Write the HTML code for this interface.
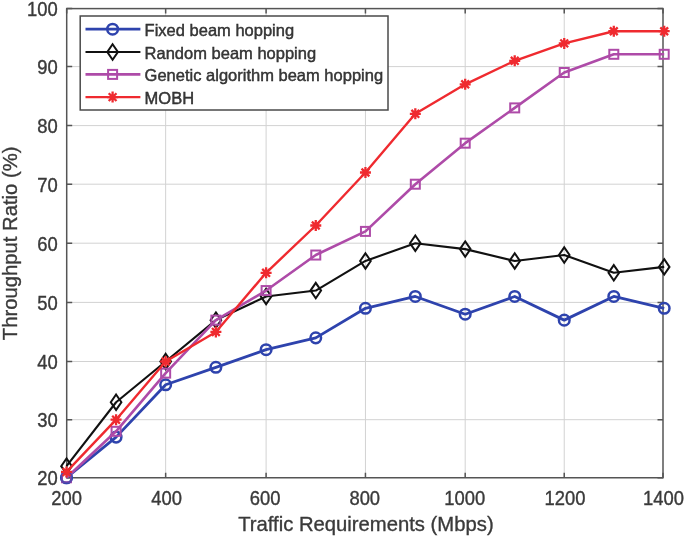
<!DOCTYPE html><html><head><meta charset="utf-8"><title>Throughput Ratio</title>
<style>html,body{margin:0;padding:0;background:#fff}svg{display:block}text{font-family:"Liberation Sans",sans-serif;fill:#3a3a3a}.t{stroke:#3a3a3a;stroke-width:0.35px}.lg{stroke:#222;stroke-width:0.4px}</style></head><body>
<svg width="685" height="537" viewBox="0 0 685 537">
<rect width="685" height="537" fill="#ffffff"/>
<path d="M165.65 8.6V477.75M266.10 8.6V477.75M365.45 8.6V477.75M465.20 8.6V477.75M564.24 8.6V477.75M66.7 419.70H663.0M66.7 361.50H663.0M66.7 302.40H663.0M66.7 243.20H663.0M66.7 184.20H663.0M66.7 125.60H663.0M66.7 66.60H663.0" stroke="#d2d2d2" stroke-width="1" fill="none"/>
<rect x="66.7" y="8.6" width="596.30" height="469.15" fill="none" stroke="#555555" stroke-width="1.5"/>
<path d="M66.70 477.75v-5M66.70 8.6v5M165.65 477.75v-5M165.65 8.6v5M266.10 477.75v-5M266.10 8.6v5M365.45 477.75v-5M365.45 8.6v5M465.20 477.75v-5M465.20 8.6v5M564.24 477.75v-5M564.24 8.6v5M663.00 477.75v-5M663.00 8.6v5M66.7 477.75h5.5M663.0 477.75h-5.5M66.7 419.70h5.5M663.0 419.70h-5.5M66.7 361.50h5.5M663.0 361.50h-5.5M66.7 302.40h5.5M663.0 302.40h-5.5M66.7 243.20h5.5M663.0 243.20h-5.5M66.7 184.20h5.5M663.0 184.20h-5.5M66.7 125.60h5.5M663.0 125.60h-5.5M66.7 66.60h5.5M663.0 66.60h-5.5M66.7 8.60h5.5M663.0 8.60h-5.5" stroke="#555555" stroke-width="1.5" fill="none"/>
<polyline points="66.50,477.75 116.08,437.12 165.65,384.78 215.88,367.32 266.10,349.68 315.77,337.86 365.45,308.31 415.32,296.48 465.20,314.22 514.72,296.48 564.24,320.13 613.80,296.48 664.20,308.31" fill="none" stroke="#2e43ad" stroke-width="2.8" stroke-linejoin="round"/>
<circle cx="66.50" cy="477.75" r="5.3" fill="none" stroke="#2e43ad" stroke-width="2.5"/>
<circle cx="116.08" cy="437.12" r="5.3" fill="none" stroke="#2e43ad" stroke-width="2.5"/>
<circle cx="165.65" cy="384.78" r="5.3" fill="none" stroke="#2e43ad" stroke-width="2.5"/>
<circle cx="215.88" cy="367.32" r="5.3" fill="none" stroke="#2e43ad" stroke-width="2.5"/>
<circle cx="266.10" cy="349.68" r="5.3" fill="none" stroke="#2e43ad" stroke-width="2.5"/>
<circle cx="315.77" cy="337.86" r="5.3" fill="none" stroke="#2e43ad" stroke-width="2.5"/>
<circle cx="365.45" cy="308.31" r="5.3" fill="none" stroke="#2e43ad" stroke-width="2.5"/>
<circle cx="415.32" cy="296.48" r="5.3" fill="none" stroke="#2e43ad" stroke-width="2.5"/>
<circle cx="465.20" cy="314.22" r="5.3" fill="none" stroke="#2e43ad" stroke-width="2.5"/>
<circle cx="514.72" cy="296.48" r="5.3" fill="none" stroke="#2e43ad" stroke-width="2.5"/>
<circle cx="564.24" cy="320.13" r="5.3" fill="none" stroke="#2e43ad" stroke-width="2.5"/>
<circle cx="613.80" cy="296.48" r="5.3" fill="none" stroke="#2e43ad" stroke-width="2.5"/>
<circle cx="664.20" cy="308.31" r="5.3" fill="none" stroke="#2e43ad" stroke-width="2.5"/>
<polyline points="66.50,466.14 116.08,402.24 165.65,361.50 215.88,320.13 266.10,296.48 315.77,290.56 365.45,260.96 415.32,243.20 465.20,249.12 514.72,260.96 564.24,255.04 613.80,272.80 664.20,266.88" fill="none" stroke="#111111" stroke-width="2.1" stroke-linejoin="round"/>
<path d="M66.50 458.44L71.80 466.14L66.50 473.84L61.20 466.14Z" fill="none" stroke="#111111" stroke-width="2" stroke-linejoin="miter"/>
<path d="M116.08 394.54L121.38 402.24L116.08 409.94L110.78 402.24Z" fill="none" stroke="#111111" stroke-width="2" stroke-linejoin="miter"/>
<path d="M165.65 353.80L170.95 361.50L165.65 369.20L160.35 361.50Z" fill="none" stroke="#111111" stroke-width="2" stroke-linejoin="miter"/>
<path d="M215.88 312.43L221.18 320.13L215.88 327.83L210.57 320.13Z" fill="none" stroke="#111111" stroke-width="2" stroke-linejoin="miter"/>
<path d="M266.10 288.78L271.40 296.48L266.10 304.18L260.80 296.48Z" fill="none" stroke="#111111" stroke-width="2" stroke-linejoin="miter"/>
<path d="M315.77 282.86L321.07 290.56L315.77 298.26L310.47 290.56Z" fill="none" stroke="#111111" stroke-width="2" stroke-linejoin="miter"/>
<path d="M365.45 253.26L370.75 260.96L365.45 268.66L360.15 260.96Z" fill="none" stroke="#111111" stroke-width="2" stroke-linejoin="miter"/>
<path d="M415.32 235.50L420.62 243.20L415.32 250.90L410.02 243.20Z" fill="none" stroke="#111111" stroke-width="2" stroke-linejoin="miter"/>
<path d="M465.20 241.42L470.50 249.12L465.20 256.82L459.90 249.12Z" fill="none" stroke="#111111" stroke-width="2" stroke-linejoin="miter"/>
<path d="M514.72 253.26L520.02 260.96L514.72 268.66L509.42 260.96Z" fill="none" stroke="#111111" stroke-width="2" stroke-linejoin="miter"/>
<path d="M564.24 247.34L569.54 255.04L564.24 262.74L558.94 255.04Z" fill="none" stroke="#111111" stroke-width="2" stroke-linejoin="miter"/>
<path d="M613.80 265.10L619.10 272.80L613.80 280.50L608.50 272.80Z" fill="none" stroke="#111111" stroke-width="2" stroke-linejoin="miter"/>
<path d="M664.20 259.18L669.50 266.88L664.20 274.58L658.90 266.88Z" fill="none" stroke="#111111" stroke-width="2" stroke-linejoin="miter"/>
<polyline points="66.50,477.75 116.08,431.31 165.65,373.14 215.88,320.13 266.10,290.56 315.77,255.04 365.45,231.40 415.32,184.20 465.20,143.18 514.72,107.90 564.24,72.50 613.80,54.30 664.20,54.30" fill="none" stroke="#ae4ba8" stroke-width="2.6" stroke-linejoin="round"/>
<rect x="62.00" y="473.25" width="9.0" height="9.0" fill="none" stroke="#ae4ba8" stroke-width="2"/>
<rect x="111.58" y="426.81" width="9.0" height="9.0" fill="none" stroke="#ae4ba8" stroke-width="2"/>
<rect x="161.15" y="368.64" width="9.0" height="9.0" fill="none" stroke="#ae4ba8" stroke-width="2"/>
<rect x="211.38" y="315.63" width="9.0" height="9.0" fill="none" stroke="#ae4ba8" stroke-width="2"/>
<rect x="261.60" y="286.06" width="9.0" height="9.0" fill="none" stroke="#ae4ba8" stroke-width="2"/>
<rect x="311.27" y="250.54" width="9.0" height="9.0" fill="none" stroke="#ae4ba8" stroke-width="2"/>
<rect x="360.95" y="226.90" width="9.0" height="9.0" fill="none" stroke="#ae4ba8" stroke-width="2"/>
<rect x="410.82" y="179.70" width="9.0" height="9.0" fill="none" stroke="#ae4ba8" stroke-width="2"/>
<rect x="460.70" y="138.68" width="9.0" height="9.0" fill="none" stroke="#ae4ba8" stroke-width="2"/>
<rect x="510.22" y="103.40" width="9.0" height="9.0" fill="none" stroke="#ae4ba8" stroke-width="2"/>
<rect x="559.74" y="68.00" width="9.0" height="9.0" fill="none" stroke="#ae4ba8" stroke-width="2"/>
<rect x="609.30" y="49.80" width="9.0" height="9.0" fill="none" stroke="#ae4ba8" stroke-width="2"/>
<rect x="659.70" y="49.80" width="9.0" height="9.0" fill="none" stroke="#ae4ba8" stroke-width="2"/>
<g opacity="0.65"><circle cx="66.50" cy="477.75" r="5.3" fill="none" stroke="#2e43ad" stroke-width="2.5"/></g>
<polyline points="66.50,471.94 116.08,419.70 165.65,361.50 215.88,331.95 266.10,272.80 315.77,225.50 365.45,172.48 415.32,113.80 465.20,84.30 514.72,60.80 564.24,43.40 613.80,31.22 664.20,31.22" fill="none" stroke="#ef2a2f" stroke-width="2.4" stroke-linejoin="round"/>
<path d="M61.00 471.94H72.00M66.50 466.44V477.44M62.61 468.06L70.39 475.83M62.61 475.83L70.39 468.06" fill="none" stroke="#ef2a2f" stroke-width="2.3"/>
<path d="M110.58 419.70H121.58M116.08 414.20V425.20M112.19 415.81L119.96 423.59M112.19 423.59L119.96 415.81" fill="none" stroke="#ef2a2f" stroke-width="2.3"/>
<path d="M160.15 361.50H171.15M165.65 356.00V367.00M161.76 357.61L169.54 365.39M161.76 365.39L169.54 357.61" fill="none" stroke="#ef2a2f" stroke-width="2.3"/>
<path d="M210.38 331.95H221.38M215.88 326.45V337.45M211.99 328.06L219.76 335.84M211.99 335.84L219.76 328.06" fill="none" stroke="#ef2a2f" stroke-width="2.3"/>
<path d="M260.60 272.80H271.60M266.10 267.30V278.30M262.21 268.91L269.99 276.69M262.21 276.69L269.99 268.91" fill="none" stroke="#ef2a2f" stroke-width="2.3"/>
<path d="M310.27 225.50H321.27M315.77 220.00V231.00M311.89 221.61L319.66 229.39M311.89 229.39L319.66 221.61" fill="none" stroke="#ef2a2f" stroke-width="2.3"/>
<path d="M359.95 172.48H370.95M365.45 166.98V177.98M361.56 168.59L369.34 176.37M361.56 176.37L369.34 168.59" fill="none" stroke="#ef2a2f" stroke-width="2.3"/>
<path d="M409.82 113.80H420.82M415.32 108.30V119.30M411.44 109.91L419.21 117.69M411.44 117.69L419.21 109.91" fill="none" stroke="#ef2a2f" stroke-width="2.3"/>
<path d="M459.70 84.30H470.70M465.20 78.80V89.80M461.31 80.41L469.09 88.19M461.31 88.19L469.09 80.41" fill="none" stroke="#ef2a2f" stroke-width="2.3"/>
<path d="M509.22 60.80H520.22M514.72 55.30V66.30M510.83 56.91L518.61 64.69M510.83 64.69L518.61 56.91" fill="none" stroke="#ef2a2f" stroke-width="2.3"/>
<path d="M558.74 43.40H569.74M564.24 37.90V48.90M560.35 39.51L568.13 47.29M560.35 47.29L568.13 39.51" fill="none" stroke="#ef2a2f" stroke-width="2.3"/>
<path d="M608.30 31.22H619.30M613.80 25.72V36.72M609.91 27.33L617.69 35.11M609.91 35.11L617.69 27.33" fill="none" stroke="#ef2a2f" stroke-width="2.3"/>
<path d="M658.70 31.22H669.70M664.20 25.72V36.72M660.31 27.33L668.09 35.11M660.31 35.11L668.09 27.33" fill="none" stroke="#ef2a2f" stroke-width="2.3"/>
<text transform="translate(66.70 504.8) scale(1 1.06)" font-size="18.4" text-anchor="middle" class="t">200</text>
<text transform="translate(166.65 504.8) scale(1 1.06)" font-size="18.4" text-anchor="middle" class="t">400</text>
<text transform="translate(265.20 504.8) scale(1 1.06)" font-size="18.4" text-anchor="middle" class="t">600</text>
<text transform="translate(364.75 504.8) scale(1 1.06)" font-size="18.4" text-anchor="middle" class="t">800</text>
<text transform="translate(464.70 504.8) scale(1 1.06)" font-size="18.4" text-anchor="middle" class="t">1000</text>
<text transform="translate(564.94 504.8) scale(1 1.06)" font-size="18.4" text-anchor="middle" class="t">1200</text>
<text transform="translate(663.45 504.8) scale(1 1.06)" font-size="18.4" text-anchor="middle" class="t">1400</text>
<text transform="translate(57.7 485.45) scale(1 1.06)" font-size="18.4" text-anchor="end" class="t">20</text>
<text transform="translate(57.7 427.40) scale(1 1.06)" font-size="18.4" text-anchor="end" class="t">30</text>
<text transform="translate(57.7 369.20) scale(1 1.06)" font-size="18.4" text-anchor="end" class="t">40</text>
<text transform="translate(57.7 310.10) scale(1 1.06)" font-size="18.4" text-anchor="end" class="t">50</text>
<text transform="translate(57.7 250.90) scale(1 1.06)" font-size="18.4" text-anchor="end" class="t">60</text>
<text transform="translate(57.7 191.90) scale(1 1.06)" font-size="18.4" text-anchor="end" class="t">70</text>
<text transform="translate(57.7 133.30) scale(1 1.06)" font-size="18.4" text-anchor="end" class="t">80</text>
<text transform="translate(57.7 74.30) scale(1 1.06)" font-size="18.4" text-anchor="end" class="t">90</text>
<text transform="translate(57.7 15.80) scale(1 1.06)" font-size="18.4" text-anchor="end" class="t">100</text>
<text x="365.9" y="530.8" font-size="20.25" class="t" text-anchor="middle">Traffic Requirements (Mbps)</text>
<text transform="translate(17 243.4) rotate(-90)" font-size="20.25" class="t" text-anchor="middle">Throughput Ratio (%)</text>
<rect x="80.2" y="16.0" width="307.8" height="94.0" fill="#ffffff" stroke="#4a4a4a" stroke-width="1.5"/>
<path d="M85.5 29.2H140.4" stroke="#2e43ad" stroke-width="2.8"/>
<circle cx="112.60" cy="29.20" r="5.3" fill="none" stroke="#2e43ad" stroke-width="2.5"/>
<text x="144.6" y="35.9" font-size="16.5" fill="#222" class="lg">Fixed beam hopping</text>
<path d="M85.5 52H140.4" stroke="#111111" stroke-width="2.1"/>
<path d="M112.60 44.30L117.90 52.00L112.60 59.70L107.30 52.00Z" fill="none" stroke="#111111" stroke-width="2" stroke-linejoin="miter"/>
<text x="144.6" y="58.7" font-size="16.5" fill="#222" class="lg">Random beam hopping</text>
<path d="M85.5 74.4H140.4" stroke="#ae4ba8" stroke-width="2.6"/>
<rect x="108.10" y="69.90" width="9.0" height="9.0" fill="none" stroke="#ae4ba8" stroke-width="2"/>
<text x="144.6" y="81.1" font-size="16.5" fill="#222" class="lg">Genetic algorithm beam hopping</text>
<path d="M85.5 97.1H140.4" stroke="#ef2a2f" stroke-width="2.4"/>
<path d="M107.10 97.10H118.10M112.60 91.60V102.60M108.71 93.21L116.49 100.99M108.71 100.99L116.49 93.21" fill="none" stroke="#ef2a2f" stroke-width="2.3"/>
<text x="144.6" y="103.8" font-size="16.5" fill="#222" class="lg">MOBH</text>
</svg></body></html>
